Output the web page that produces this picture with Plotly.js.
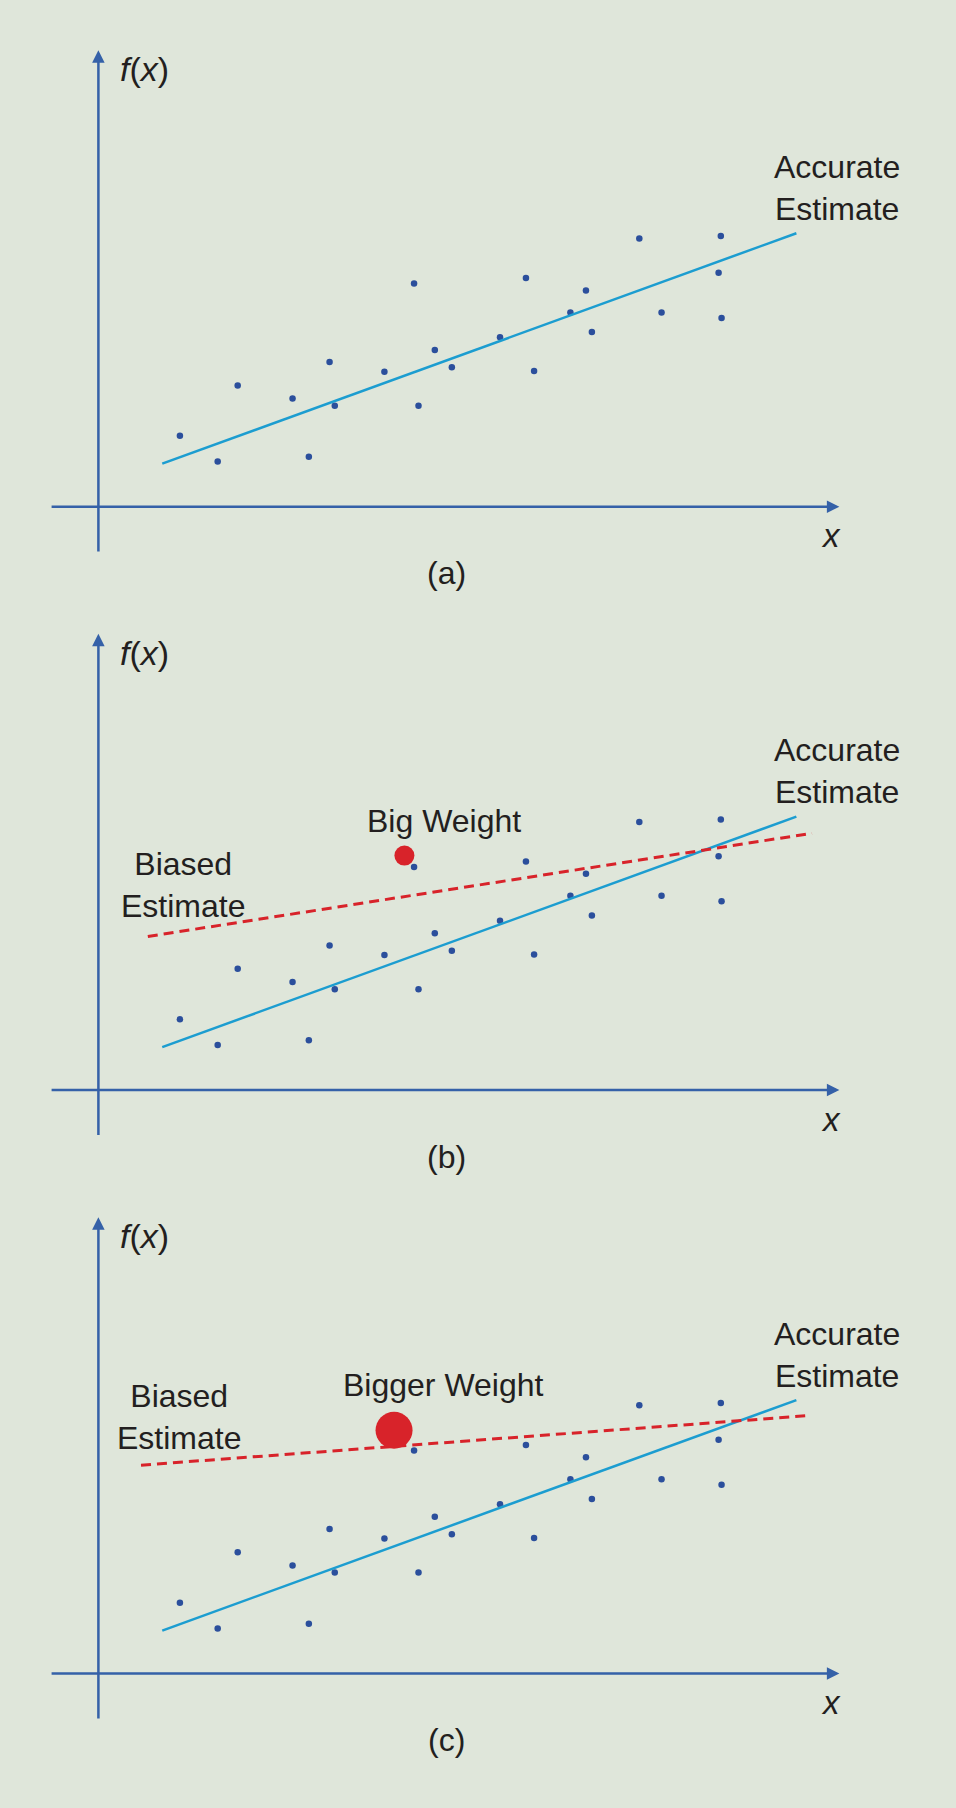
<!DOCTYPE html>
<html>
<head>
<meta charset="utf-8">
<script src="https://cdn.plot.ly/plotly-3.0.1.min.js"></script>
<style>
  html, body { margin: 0; padding: 0; background: #dfe6da; }
  #chart { width: 956px; height: 1808px; }
</style>
</head>
<body>
<div id="chart"></div>
<script>
// Sample points (same in all three panels)
const ptsX = [1.10, 1.61, 1.88, 2.62, 2.84, 3.12, 3.19, 3.86, 4.26, 4.32, 4.54, 4.77,
              5.42, 5.77, 5.88, 6.37, 6.58, 6.66, 7.30, 7.60, 8.37, 8.40, 8.41];
const ptsY = [0.957, 0.609, 1.636, 1.459, 0.673, 1.951, 1.362, 1.822, 3.011, 1.362, 2.115, 1.881,
              2.286, 3.085, 1.830, 2.621, 2.918, 2.356, 3.619, 2.621, 3.155, 3.652, 2.547];

// Accurate estimate line
const accX = [0.862, 9.42];
const accY = [0.580, 3.690];

// Biased estimate lines (panels b and c)
const biasBX = [0.667, 9.63];
const biasBY = [2.073, 3.466];
const biasCX = [0.575, 9.60];
const biasCY = [2.812, 3.482];

// Weighted outliers
const bigX = [4.13], bigY = [3.165];
const biggerX = [3.99], biggerY = [3.283];

// Panel labels
const panelLabels = ['(a)', '(b)', '(c)'];

const AXIS_COL = '#3561a8';
const DOT_COL = '#2b4f9c';
const ACC_COL = '#1c9dd0';
const RED = '#d8232a';
const TXT = '#231f20';
const FONT = 'Liberation Sans, Arial, Helvetica, sans-serif';

const suffix = ['', '2', '3'];
const traces = [];
suffix.forEach(s => {
  traces.push({
    x: ptsX, y: ptsY, xaxis: 'x' + s, yaxis: 'y' + s,
    type: 'scatter', mode: 'markers',
    marker: { color: DOT_COL, size: 6.5 }, hoverinfo: 'skip'
  });
  traces.push({
    x: accX, y: accY, xaxis: 'x' + s, yaxis: 'y' + s,
    type: 'scatter', mode: 'lines',
    line: { color: ACC_COL, width: 2.5 }, hoverinfo: 'skip'
  });
});
traces.push({ x: biasBX, y: biasBY, xaxis: 'x2', yaxis: 'y2', type: 'scatter', mode: 'lines',
  line: { color: RED, width: 3, dash: '10px,6px' }, hoverinfo: 'skip' });
traces.push({ x: bigX, y: bigY, xaxis: 'x2', yaxis: 'y2', type: 'scatter', mode: 'markers',
  marker: { color: RED, size: 20 }, hoverinfo: 'skip' });
traces.push({ x: biasCX, y: biasCY, xaxis: 'x3', yaxis: 'y3', type: 'scatter', mode: 'lines',
  line: { color: RED, width: 3, dash: '10px,6px' }, hoverinfo: 'skip' });
traces.push({ x: biggerX, y: biggerY, xaxis: 'x3', yaxis: 'y3', type: 'scatter', mode: 'markers',
  marker: { color: RED, size: 37 }, hoverinfo: 'skip' });

const xr = [-1.328, 11.574];
const yr = [-1.036, 6.837];
const domains = [[0.6773, 1], [0.3546, 0.6773], [0.0319, 0.3546]];

const layout = {
  width: 956, height: 1808,
  margin: { l: 0, r: 0, t: 0, b: 0 },
  paper_bgcolor: '#dfe6da', plot_bgcolor: 'rgba(0,0,0,0)',
  showlegend: false,
  font: { family: FONT, color: TXT, size: 32 },
  annotations: []
};

suffix.forEach((s, i) => {
  const ax = { range: xr, visible: false, fixedrange: true, domain: [0, 1], anchor: 'y' + s };
  const ay = { range: yr, visible: false, fixedrange: true, domain: domains[i], anchor: 'x' + s };
  layout['xaxis' + s] = ax;
  layout['yaxis' + s] = ay;
  const xref = 'x' + s, yref = 'y' + s;
  // x axis arrow
  layout.annotations.push({ xref, yref, axref: xref, ayref: yref,
    x: 10.0, y: 0, ax: -0.652, ay: 0, text: '', showarrow: true,
    arrowhead: 2, arrowsize: 1, arrowwidth: 2.5, arrowcolor: AXIS_COL, standoff: 0, startstandoff: 0 });
  // y axis arrow
  layout.annotations.push({ xref, yref, axref: xref, ayref: yref,
    x: 0, y: 6.158, ax: 0, ay: -0.626, text: '', showarrow: true,
    arrowhead: 2, arrowsize: 1, arrowwidth: 2.5, arrowcolor: AXIS_COL, standoff: 0, startstandoff: 0 });
  // labels
  layout.annotations.push({ xref, yref, x: 0.62, y: 5.90, text: '<i>f</i>(<i>x</i>)', showarrow: false,
    xanchor: 'center', yanchor: 'middle', font: { size: 34, family: FONT, color: TXT } });
  layout.annotations.push({ xref, yref, x: 9.89, y: -0.39, text: '<i>x</i>', showarrow: false,
    xanchor: 'center', yanchor: 'middle', font: { size: 33, family: FONT, color: TXT } });
  layout.annotations.push({ xref, yref, x: 4.70, y: -0.90, text: panelLabels[i], showarrow: false,
    xanchor: 'center', yanchor: 'middle', font: { size: 32, family: FONT, color: TXT } });
  layout.annotations.push({ xref, yref, x: 9.97, y: 4.30, text: 'Accurate<br>Estimate', showarrow: false,
    xanchor: 'center', yanchor: 'middle', align: 'center', font: { size: 32, family: FONT, color: TXT } });
});

layout.annotations.push({ xref: 'x2', yref: 'y2', x: 4.66, y: 3.63, text: 'Big Weight', showarrow: false,
  xanchor: 'center', yanchor: 'middle', font: { size: 32, family: FONT, color: TXT } });
layout.annotations.push({ xref: 'x2', yref: 'y2', x: 1.14, y: 2.77, text: 'Biased<br>Estimate', showarrow: false,
  xanchor: 'center', yanchor: 'middle', align: 'center', font: { size: 32, family: FONT, color: TXT } });
layout.annotations.push({ xref: 'x3', yref: 'y3', x: 4.66, y: 3.90, text: 'Bigger Weight', showarrow: false,
  xanchor: 'center', yanchor: 'middle', font: { size: 32, family: FONT, color: TXT } });
layout.annotations.push({ xref: 'x3', yref: 'y3', x: 1.09, y: 3.46, text: 'Biased<br>Estimate', showarrow: false,
  xanchor: 'center', yanchor: 'middle', align: 'center', font: { size: 32, family: FONT, color: TXT } });

Plotly.newPlot('chart', traces, layout, { staticPlot: true, displayModeBar: false });
</script>
</body>
</html>
